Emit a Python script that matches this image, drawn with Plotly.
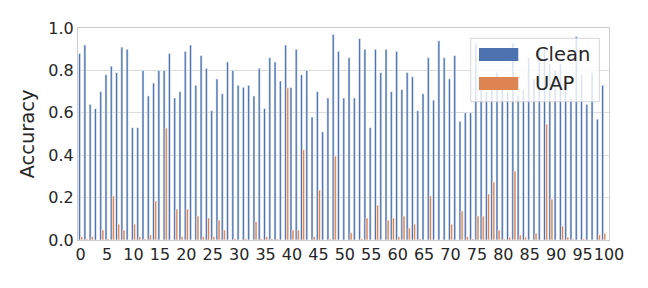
import plotly.graph_objects as go

categories = list(range(100))

clean = [0.88, 0.92, 0.64, 0.62, 0.70, 0.78, 0.82, 0.79, 0.91, 0.90,
         0.53, 0.53, 0.80, 0.68, 0.74, 0.80, 0.80, 0.88, 0.67, 0.70,
         0.89, 0.92, 0.73, 0.87, 0.81, 0.61, 0.76, 0.69, 0.84, 0.80,
         0.73, 0.72, 0.73, 0.68, 0.81, 0.62, 0.86, 0.84, 0.75, 0.92,
         0.72, 0.90, 0.78, 0.80, 0.58, 0.70, 0.51, 0.67, 0.97, 0.89,
         0.67, 0.86, 0.67, 0.95, 0.90, 0.53, 0.90, 0.79, 0.90, 0.70,
         0.89, 0.71, 0.79, 0.77, 0.61, 0.69, 0.86, 0.66, 0.94, 0.86,
         0.76, 0.87, 0.56, 0.60, 0.60, 0.93, 0.71, 0.70, 0.72, 0.79,
         0.71, 0.70, 0.93, 0.68, 0.71, 0.86, 0.76, 0.90, 0.90, 0.83,
         0.80, 0.83, 0.73, 0.67, 0.96, 0.78, 0.64, 0.79, 0.57, 0.73]

uap = [0.016, 0.005, 0.016, 0.0, 0.047, 0.006, 0.208, 0.075, 0.047, 0.0,
       0.075, 0.016, 0.006, 0.024, 0.184, 0.0, 0.528, 0.0, 0.146, 0.016,
       0.146, 0.0, 0.113, 0.016, 0.104, 0.016, 0.094, 0.047, 0.0, 0.006,
       0.0, 0.006, 0.0, 0.087, 0.006, 0.016, 0.006, 0.006, 0.0, 0.718,
       0.047, 0.047, 0.426, 0.0, 0.016, 0.236, 0.0, 0.006, 0.396, 0.0,
       0.0, 0.035, 0.0, 0.006, 0.104, 0.0, 0.165, 0.0, 0.094, 0.104,
       0.016, 0.113, 0.057, 0.075, 0.006, 0.0, 0.208, 0.0, 0.0, 0.0,
       0.075, 0.0, 0.137, 0.016, 0.006, 0.113, 0.113, 0.217, 0.274, 0.047,
       0.005, 0.014, 0.325, 0.024, 0.014, 0.0, 0.033, 0.0, 0.547, 0.193,
       0.0, 0.066, 0.014, 0.005, 0.0, 0.005, 0.0, 0.0, 0.024, 0.033]

xtick_vals = list(range(0, 101, 5))
xtick_text = [str(v) for v in xtick_vals]
ytick_vals = [0.0, 0.2, 0.4, 0.6, 0.8, 1.0]
ytick_text = ["%.1f" % v for v in ytick_vals]

series_names = ["Clean", "UAP"]
colors = ["#4C72B0", "#DD8452"]

FONT = "DejaVu Sans"
TXT = "#262626"

fig = go.Figure()
for name, vals, col in zip(series_names, [clean, uap], colors):
    fig.add_trace(go.Bar(x=categories, y=vals, name=name, marker_color=col,
                         marker_line=dict(width=0.6, color="white"),
                         showlegend=False))

# page body adds an 8px offset, so the figure is 8px smaller on each side
fig.update_layout(
    width=640, height=280,
    margin=dict(l=70, r=39, t=20, b=48, autoexpand=False),
    paper_bgcolor="white", plot_bgcolor="white",
    barmode="group", bargap=0.2, bargroupgap=0,
    font=dict(family=FONT, color=TXT, size=16),
)
fig.update_xaxes(range=[-0.5, 100], tickmode="array", tickvals=xtick_vals,
                 ticktext=xtick_text, tickangle=0, automargin=False,
                 showgrid=False, zeroline=False,
                 showline=True, mirror=True, linecolor="#cccccc", linewidth=1,
                 ticks="", tickfont=dict(size=16, color=TXT))
fig.update_yaxes(range=[0, 1.0], tickmode="array", tickvals=ytick_vals,
                 ticktext=ytick_text, showgrid=True, gridcolor="#dcdcdc",
                 gridwidth=1, zeroline=False, showline=True, mirror=True,
                 automargin=False,
                 linecolor="#cccccc", linewidth=1, ticks="",
                 tickfont=dict(size=16, color=TXT),
                 title=dict(text="Accuracy", font=dict(size=19.5, color=TXT),
                            standoff=8))

# custom legend (matplotlib-style box); coordinates in reference window pixels
W, H = 531.0, 212.0
def px(x):
    return (x - 78) / W
def py(y):
    return (240 - y) / H

fig.add_shape(type="rect", xref="paper", yref="paper", layer="above",
              x0=px(470.7), x1=px(599.3), y0=py(101.7), y1=py(38.3),
              fillcolor="rgba(255,255,255,0.8)",
              line=dict(color="rgba(204,204,204,0.8)", width=1))
legend_rows = [(48.0, 61.0, 54.5), (77.0, 90.0, 83.5)]
for (top, bot, mid), name, col in zip(legend_rows, series_names, colors):
    fig.add_shape(type="rect", xref="paper", yref="paper", layer="above",
                  x0=px(479), x1=px(518.3), y0=py(bot), y1=py(top),
                  fillcolor=col, line=dict(width=0))
    fig.add_annotation(xref="paper", yref="paper", x=px(533), y=py(mid),
                       text=name, showarrow=False, xanchor="left",
                       yanchor="middle", font=dict(size=19.5, color=TXT,
                                                   family=FONT))

fig.write_html("out.html")
